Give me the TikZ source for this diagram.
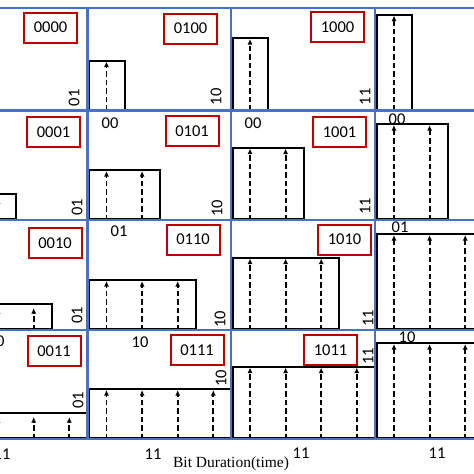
\documentclass[tikz,border=0pt]{standalone}
\usepackage{fontspec}
\setmainfont{Carlito}
\newfontfamily\timesfont{Liberation Serif}
\usetikzlibrary{arrows.meta}
\definecolor{gridblue}{HTML}{4472C4}
\definecolor{boxred}{HTML}{C00000}
\begin{document}
\begin{tikzpicture}[x=1pt,y=-1pt,
  gridline/.style={draw=gridblue,line width=2.2pt},
  pulse/.style={draw=black,line width=2pt},
  pulsearrow/.style={draw=black,line width=1.8pt,dash pattern=on 5.5pt off 3pt,-{Latex[length=5.5pt,width=5pt]}},
  codebox/.style={draw=boxred,line width=2pt,fill=white,minimum width=53pt,minimum height=30pt,inner sep=0pt,font=\fontsize{16.5}{19}\selectfont},
  lbl/.style={inner sep=0pt,font=\fontsize{16.5}{19}\selectfont},
  rlbl/.style={lbl,rotate=90},
  axislbl/.style={inner sep=0pt,font=\timesfont\fontsize{15.5}{18}\selectfont}]
\clip (0,0) rectangle (474,474);
\fill[white] (0,0) rectangle (474,474);
% pulses and arrows
\foreach \c/\L in {0/-56.5,1/87.5,2/231,3/375}{
  \foreach \r/\B in {0/110.5,1/220,2/330,3/439}{
    \pgfmathsetmacro\T{\B-{26,50,72.5,96}[\c]}
    \pgfmathsetmacro\R{\L+1.5+35.6*(\r+1)}
    \pgfmathsetmacro\tip{\T+ifthenelse(\c==0,4,1)}
    \draw[pulse] (\L+1.5,\B-1) rectangle (\R,\T);
    \foreach \k in {0,...,\r}{
      \pgfmathsetmacro\ax{\L+1.5+17.5+35.6*\k}
      \coordinate (s\r\c\k) at (\ax,\B);
      \coordinate (e\r\c\k) at (\ax,\tip);
      \draw[pulsearrow] (s\r\c\k) -- (e\r\c\k);
    }
  }
}
% grid
\foreach \y in {8,110.5,220,330,439}{\draw[gridline] (0,\y) -- (474,\y);}
\foreach \x in {87.5,231,375}{\draw[gridline] (\x,8) -- (\x,440);}
% code boxes
\node[codebox] (b0000) at (50.5,27.5) {0000};
\node[codebox] (b0100) at (190.5,28.5) {0100};
\node[codebox] (b1000) at (337.5,27) {1000};
\node[codebox] (b0001) at (53.5,132) {0001};
\node[codebox] (b0101) at (192,131) {0101};
\node[codebox] (b1001) at (339.5,132) {1001};
\node[codebox] (b0010) at (55,243) {0010};
\node[codebox] (b0110) at (193,239.5) {0110};
\node[codebox] (b1010) at (344.5,239.5) {1010};
\node[codebox] (b0011) at (54,351) {0011};
\node[codebox] (b0111) at (197,350) {0111};
\node[codebox] (b1011) at (330.5,350) {1011};
% rotated labels
\node[rlbl] (r00) at (74,98) {01};
\node[rlbl] (r10) at (77,207) {01};
\node[rlbl] (r20) at (77,315) {01};
\node[rlbl] (r30) at (78,400) {01};
\node[rlbl] (r01) at (216,97) {10};
\node[rlbl] (r11) at (217,208) {10};
\node[rlbl] (r21) at (220,319) {10};
\node[rlbl] (r31) at (221,378) {10};
\node[rlbl] (r02) at (365,97) {11};
\node[rlbl] (r12) at (365,206) {11};
\node[rlbl] (r22) at (368,318) {11};
\node[rlbl] (r32) at (368,356) {11};
% top labels
\node[lbl] (t11) at (110,123) {00};
\node[lbl] (t12) at (253,123) {00};
\node[lbl] (t13) at (397,119) {00};
\node[lbl] (t21) at (119,231) {01};
\node[lbl] (t23) at (400,227) {01};
\node[lbl] (t30) at (-4,341) {00};
\node[lbl] (t31) at (140,342) {10};
\node[lbl] (t33) at (407,337) {10};
% bottom labels
\node[lbl] (x0) at (2,454) {11};
\node[lbl] (x1) at (153,454) {11};
\node[lbl] (x2) at (301,453) {11};
\node[lbl] (x3) at (437,453) {11};
\node[axislbl] (axis) at (231,464) {Bit Duration(time)};
\end{tikzpicture}
\end{document}
